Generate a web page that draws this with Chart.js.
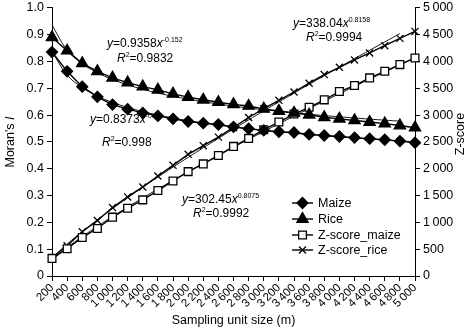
<!DOCTYPE html>
<html>
<head>
<meta charset="utf-8">
<script src="https://cdn.jsdelivr.net/npm/chart.js@4/dist/chart.umd.min.js"></script>
<style>
  body { margin: 0; background: #fff; }
  #wrap { width: 474px; height: 331px; }
</style>
</head>
<body>
<div id="wrap"><canvas id="myChart" width="474" height="331"></canvas></div>
<script>
// sampling unit sizes (m)
const sizes = [200, 400, 600, 800, 1000, 1200, 1400, 1600, 1800, 2000, 2200, 2400, 2600,
               2800, 3000, 3200, 3400, 3600, 3800, 4000, 4200, 4400, 4600, 4800, 5000];

// Moran's I
const maize = [0.835, 0.763, 0.706, 0.668, 0.639, 0.622, 0.608, 0.597, 0.586, 0.576, 0.570, 0.565, 0.556,
               0.549, 0.543, 0.538, 0.535, 0.528, 0.524, 0.520, 0.516, 0.512, 0.508, 0.503, 0.497];
const rice = [0.890, 0.840, 0.793, 0.763, 0.739, 0.721, 0.706, 0.694, 0.679, 0.667, 0.657, 0.648, 0.640,
              0.634, 0.623, 0.615, 0.608, 0.601, 0.592, 0.586, 0.580, 0.574, 0.568, 0.561, 0.553];

// Z-scores
const zMaize = [328, 508, 719, 886, 1097, 1264, 1419, 1593, 1772, 1946, 2090, 2245, 2416,
                2565, 2727, 2870, 3020, 3145, 3284, 3439, 3550, 3693, 3816, 3941, 4065];
const zRice = [340, 563, 824, 1035, 1276, 1474, 1660, 1865, 2063, 2268, 2430, 2589, 2770,
               2955, 3120, 3275, 3430, 3594, 3755, 3891, 4028, 4158, 4294, 4430, 4560];

// power trendlines y = a * x^b (x = category index), as printed on the chart
const trendA = [0.8373, 0.9358, 302.45, 338.04];
const trendB = [-0.16, -0.152, 0.8075, 0.8158];
const trendLen = [25, 24, 25, 24];

const leftTicks = { min: 0, max: 1, step: 0.1 };
const rightTicks = { min: 0, max: 5000, step: 500 };

const FONT = '"Liberation Sans", Arial, sans-serif';

function thousands(v) {
  if (v < 1000) return String(v);
  const r = v % 1000;
  return Math.floor(v / 1000) + '\u2009' + String(r).padStart(3, '0');
}

const labels = sizes.map(thousands);

function trend(k) {
  return sizes.map((s, i) => i < trendLen[k] ? trendA[k] * Math.pow(i + 1, trendB[k]) : null);
}

const series = [
  { label: 'Maize', data: maize, axis: 'y', style: 'rectRot', r: 5.5, fill: '#000' },
  { label: 'Rice', data: rice, axis: 'y', style: 'triangle', r: 6.5, fill: '#000' },
  { label: 'Z-score_maize', data: zMaize, axis: 'y1', style: 'rect', r: 5.5, fill: '#fff' },
  { label: 'Z-score_rice', data: zRice, axis: 'y1', style: 'crossRot', r: 5, fill: '#000' }
];

const datasets = series.map(s => ({
  label: s.label,
  data: s.data,
  yAxisID: s.axis,
  borderColor: '#000',
  backgroundColor: s.fill,
  borderWidth: 1.4,
  pointStyle: s.style,
  pointRadius: s.r,
  pointBorderWidth: 1.3,
  pointBorderColor: '#000',
  pointBackgroundColor: s.fill,
  tension: 0
}));

series.forEach((s, k) => {
  datasets.push({
    label: 'trend ' + s.label,
    data: trend(k),
    yAxisID: s.axis,
    borderColor: '#000',
    borderWidth: 0.9,
    pointRadius: 0,
    tension: 0.4
  });
});

// rich text helper: parts [{t, it, sup}]
function rich(ctx, parts, x, y) {
  let cx = x;
  parts.forEach(p => {
    const size = p.sup ? 7 : 12;
    ctx.font = (p.it ? 'italic ' : '') + size + 'px ' + FONT;
    ctx.fillText(p.t, cx, p.sup ? y - 5 : y);
    cx += ctx.measureText(p.t).width;
  });
}

const notes = [
  { x: 107, y: 47, parts: [{ t: 'y', it: 1 }, { t: '=0.9358' }, { t: 'x', it: 1 }, { t: '-0.152', sup: 1 }] },
  { x: 117, y: 62, parts: [{ t: 'R', it: 1 }, { t: '2', sup: 1 }, { t: '=0.9832' }] },
  { x: 90, y: 123, parts: [{ t: 'y', it: 1 }, { t: '=0.8373' }, { t: 'x', it: 1 }, { t: '-0.16', sup: 1 }] },
  { x: 102, y: 146, parts: [{ t: 'R', it: 1 }, { t: '2', sup: 1 }, { t: '=0.998' }] },
  { x: 293, y: 27, parts: [{ t: 'y', it: 1 }, { t: '=338.04' }, { t: 'x', it: 1 }, { t: '0.8158', sup: 1 }] },
  { x: 306, y: 41, parts: [{ t: 'R', it: 1 }, { t: '2', sup: 1 }, { t: '=0.9994' }] },
  { x: 182, y: 203, parts: [{ t: 'y', it: 1 }, { t: '=302.45' }, { t: 'x', it: 1 }, { t: '0.8075', sup: 1 }] },
  { x: 193, y: 217, parts: [{ t: 'R', it: 1 }, { t: '2', sup: 1 }, { t: '=0.9992' }] }
];

const extras = {
  id: 'extras',
  afterDraw(chart) {
    const ctx = chart.ctx;
    const area = chart.chartArea;
    ctx.save();
    ctx.fillStyle = '#000';
    ctx.textBaseline = 'alphabetic';
    ctx.textAlign = 'left';
    notes.forEach(n => rich(ctx, n.parts, n.x, n.y));

    // axis titles
    ctx.font = '12.5px ' + FONT;
    ctx.textAlign = 'center';
    ctx.textBaseline = 'middle';
    ctx.fillText('Sampling unit size (m)', (area.left + area.right) / 2, 321);

    ctx.save();
    ctx.translate(11, 142);
    ctx.rotate(-Math.PI / 2);
    ctx.textAlign = 'left';
    const w1 = ctx.measureText("Moran's ").width;
    ctx.font = 'italic 12.5px ' + FONT;
    const w2 = ctx.measureText('I').width;
    ctx.font = '12.5px ' + FONT;
    ctx.fillText("Moran's ", -(w1 + w2) / 2, 0);
    ctx.font = 'italic 12.5px ' + FONT;
    ctx.fillText('I', -(w1 + w2) / 2 + w1, 0);
    ctx.restore();

    ctx.save();
    ctx.translate(461, 134);
    ctx.rotate(-Math.PI / 2);
    ctx.font = '12.5px ' + FONT;
    ctx.textAlign = 'center';
    ctx.fillText('Z-score', 0, 0);
    ctx.restore();

    // legend inside the plot
    const ly = [203, 219, 235, 250];
    series.forEach((s, k) => {
      const y = ly[k];
      ctx.strokeStyle = '#000';
      ctx.lineWidth = 1.4;
      ctx.beginPath();
      ctx.moveTo(292, y);
      ctx.lineTo(313, y);
      ctx.stroke();
      ctx.fillStyle = s.fill;
      ctx.lineWidth = 1.3;
      Chart.helpers.drawPoint(ctx, {
        pointStyle: s.style, radius: s.r, rotation: 0, borderWidth: 1.3
      }, 302.5, y);
      ctx.fillStyle = '#000';
      ctx.font = '12.5px ' + FONT;
      ctx.textAlign = 'left';
      ctx.fillText(s.label, 318, y + 0.5);
    });
    ctx.restore();
  }
};

function fixY(width) {
  return s => { s.width = width; s.paddingTop = 7; s.paddingBottom = 0; };
}

const config = {
  type: 'line',
  data: { labels: labels, datasets: datasets },
  options: {
    responsive: false,
    animation: false,
    devicePixelRatio: 1,
    layout: { padding: { top: 7, left: 0, right: 0, bottom: 0 } },
    plugins: { legend: { display: false }, tooltip: { enabled: false } },
    scales: {
      x: {
        type: 'category',
        offset: false,
        grid: { drawOnChartArea: false, drawTicks: true, tickLength: 5, color: '#000', offset: false },
        border: { color: '#000', width: 1 },
        ticks: { autoSkip: false, maxRotation: 45, minRotation: 45, color: '#000', padding: 0,
                 font: { family: FONT, size: 11.5 } },
        afterFit: s => { s.height = 55; }
      },
      y: {
        position: 'left',
        min: leftTicks.min, max: leftTicks.max,
        grid: { drawOnChartArea: false, drawTicks: true, tickLength: 5, color: '#000' },
        border: { color: '#000', width: 1 },
        ticks: { stepSize: leftTicks.step, color: '#000', padding: 3,
                 font: { family: FONT, size: 12.5 },
                 callback: v => v === 0 ? '0' : Number(v).toFixed(1) },
        afterFit: fixY(52)
      },
      y1: {
        position: 'right',
        min: rightTicks.min, max: rightTicks.max,
        grid: { drawOnChartArea: false, drawTicks: true, tickLength: 5, color: '#000' },
        border: { color: '#000', width: 1 },
        ticks: { stepSize: rightTicks.step, color: '#000', padding: 3,
                 font: { family: FONT, size: 12.5 },
                 callback: v => thousands(v) },
        afterFit: fixY(59)
      }
    }
  },
  plugins: [extras]
};

const ctx = document.getElementById('myChart').getContext('2d');
const myChart = new Chart(ctx, config);
</script>
</body>
</html>
